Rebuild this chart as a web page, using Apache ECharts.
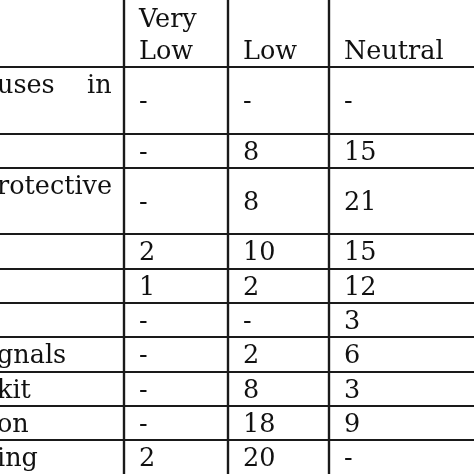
<!DOCTYPE html>
<html>
<head>
<meta charset="utf-8">
<script src="https://cdn.jsdelivr.net/npm/echarts@6/dist/echarts.min.js"></script>
<style>html,body{margin:0;padding:0;background:#fff}#main{width:474px;height:474px}</style>
</head>
<body>
<div id="main"></div>
<script>
var headers = ['', 'Very\nLow', 'Low', 'Neutral'];
var rowLabels = ['uses    in', '', 'rotective', '', '', '', 'gnals', 'kit', 'on', 'ing'];
var veryLow = ['-', '-', '-', '2', '1', '-', '-', '-', '-', '2'];
var low = ['-', '8', '8', '10', '2', '-', '2', '8', '18', '20'];
var neutral = ['-', '15', '21', '15', '12', '3', '6', '3', '9', '-'];

// table layout (pixels of the picture)
var colEdges = [-40, 124, 228, 329, 520];
var rowEdges = [-10, 67, 134, 168, 234, 269, 303, 337, 372, 406, 440, 500];

var cells = [];
headers.forEach(function (h, c) { cells.push([c, 0, h]); });
for (var r = 0; r < rowLabels.length; r++) {
    cells.push([0, r + 1, rowLabels[r]]);
    cells.push([1, r + 1, veryLow[r]]);
    cells.push([2, r + 1, low[r]]);
    cells.push([3, r + 1, neutral[r]]);
}

var font = '25.5px "DejaVu Serif"';

function renderItem(params, api) {
    var c = api.value(0), r = api.value(1), txt = api.value(2);
    var p0 = api.coord([colEdges[c], rowEdges[r]]);
    var p1 = api.coord([colEdges[c + 1], rowEdges[r + 1]]);
    var top = p0[1], bottom = Math.min(p1[1], 474);
    var tall = (bottom - top) > 60;
    var x = c === 0 ? -3 : p0[0] + 15;
    var children = [{
        type: 'rect',
        shape: { x: p0[0], y: p0[1], width: p1[0] - p0[0], height: p1[1] - p0[1] },
        style: { fill: 'none', stroke: '#1a1a1a', lineWidth: 2.2 }
    }];
    var st = { text: txt, x: x, font: font, fill: '#111', textAlign: 'left', textVerticalAlign: 'middle' };
    if (r === 0) {
        st.y = bottom + 1; st.textVerticalAlign = 'bottom'; st.lineHeight = 32;
    } else if (c === 0 && tall) {
        st.y = top + 19;
    } else {
        st.y = (top + bottom) / 2 + 2;
    }
    children.push({ type: 'text', style: st });
    return { type: 'group', children: children };
}

var chart = echarts.init(document.getElementById('main'));
chart.setOption({
    animation: false,
    backgroundColor: '#fff',
    grid: { left: 0, right: 0, top: 0, bottom: 0 },
    xAxis: { type: 'value', min: 0, max: 474, show: false },
    yAxis: { type: 'value', min: 0, max: 474, inverse: true, show: false },
    series: [{
        type: 'custom',
        renderItem: renderItem,
        data: cells,
        clip: false
    }]
});
</script>
</body>
</html>
